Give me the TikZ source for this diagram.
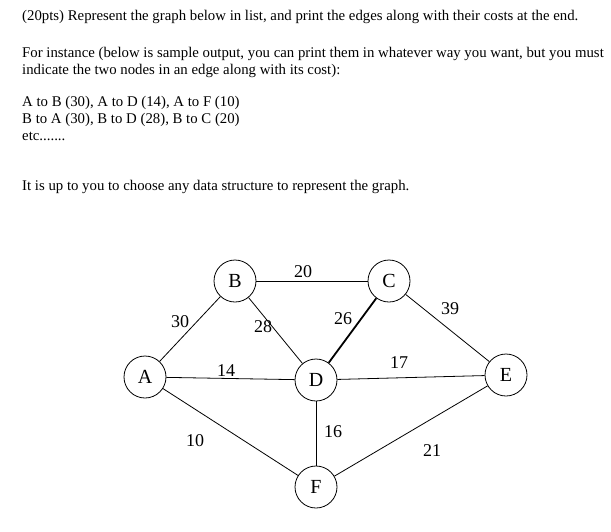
\documentclass[tikz,border=0pt]{standalone}
\usepackage{fontspec}
\setmainfont{Liberation Serif}
\begin{document}
\begin{tikzpicture}[x=1pt,y=-1pt,
  vtx/.style={circle,draw,line width=0.8pt,minimum size=42pt,inner sep=0pt,font=\fontsize{20}{20}\selectfont},
  edge/.style={line width=0.8pt},
  lbl/.style={font=\fontsize{18}{18}\selectfont,inner sep=0pt},
  txt/.style={anchor=west,inner sep=0pt,font=\fontsize{14.8}{17}\selectfont}]
\useasboundingbox (0,0) rectangle (611,531);
\node[txt] (t1) at (22,17) {(20pts) Represent the graph below in list, and print the edges along with their costs at the end.};
\node[txt,align=left,anchor=north west] (t2) at (22,47) {For instance (below is sample output, you can print them in whatever way you want, but you must\\indicate the two nodes in an edge along with its cost):};
\node[txt,align=left,anchor=north west] (t3) at (22,96) {A to B (30), A to D (14), A to F (10)\\B to A (30), B to D (28), B to C (20)\\etc.......};
\node[txt] (t4) at (22,187) {It is up to you to choose any data structure to represent the graph.};
\node[vtx] (A) at (145,377) {A};
\node[vtx] (B) at (235,281) {B};
\node[vtx] (C) at (389,281) {C};
\node[vtx] (D) at (316,380) {D};
\node[vtx] (E) at (506,375) {E};
\node[vtx] (F) at (316,487) {F};
\draw[edge] (A)--(B);
\draw[edge] (A)--(D);
\draw[edge] (A)--(F);
\draw[edge] (B)--(C);
\draw[edge] (B)--(D);
\draw[line width=1.8pt] (C)--(D);
\draw[edge] (C)--(E);
\draw[edge] (D)--(E);
\draw[edge] (D)--(F);
\draw[edge] (F)--(E);
\node[lbl] (l20) at (303,272) {20};
\node[lbl] (l30) at (180,322) {30};
\node[lbl] (l28) at (263,327) {28};
\node[lbl] (l26) at (343,319) {26};
\node[lbl] (l39) at (450,309) {39};
\node[lbl] (l14) at (226,371) {14};
\node[lbl] (l17) at (399,363) {17};
\node[lbl] (l16) at (333,432) {16};
\node[lbl] (l10) at (195,441) {10};
\node[lbl] (l21) at (432,451) {21};
\end{tikzpicture}
\end{document}
